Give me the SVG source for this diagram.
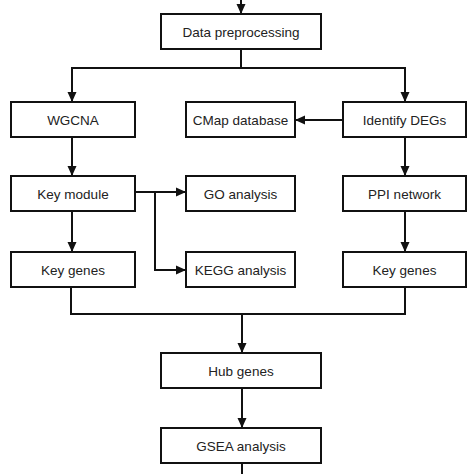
<svg xmlns="http://www.w3.org/2000/svg" width="474" height="474" viewBox="0 0 474 474">
<style>
.box{fill:#fff;stroke:#111;stroke-width:2}
.t{font-family:"Liberation Sans",Arial,sans-serif;font-size:13.5px;fill:#222;text-anchor:middle;dominant-baseline:central}
.c{fill:none;stroke:#111;stroke-width:2}
</style>
<defs>
<marker id="ah" markerWidth="10" markerHeight="10" refX="9" refY="5" orient="auto" markerUnits="userSpaceOnUse">
<path d="M0,0.5 L10,5 L0,9.5 Z" fill="#111"/>
</marker>
</defs>
<rect width="474" height="474" fill="#fff"/>
<g id="connectors">
<path class="c" d="M241,0 V13" marker-end="url(#ah)"/>
<path class="c" d="M241,49 V68 H72 V101" marker-end="url(#ah)"/>
<path class="c" d="M241,68 H405 V101" marker-end="url(#ah)"/>
<path class="c" d="M343,120 H296" marker-end="url(#ah)"/>
<path class="c" d="M72,137 V175" marker-end="url(#ah)"/>
<path class="c" d="M405,137 V175" marker-end="url(#ah)"/>
<path class="c" d="M135,192 H185" marker-end="url(#ah)"/>
<path class="c" d="M155,192 V270 H185" marker-end="url(#ah)"/>
<path class="c" d="M72,211 V251" marker-end="url(#ah)"/>
<path class="c" d="M405,211 V251" marker-end="url(#ah)"/>
<path class="c" d="M71,287 V314 H405 V287"/>
<path class="c" d="M242,314 V352" marker-end="url(#ah)"/>
<path class="c" d="M242,388 V427" marker-end="url(#ah)"/>
<path class="c" d="M242,463 V474"/>
</g>
<g id="n-data"><rect class="box" x="161" y="14" width="160" height="35"/><text class="t" x="241" y="32">Data preprocessing</text></g>
<g id="n-wgcna"><rect class="box" x="11" y="102" width="124" height="35"/><text class="t" x="73" y="120">WGCNA</text></g>
<g id="n-cmap"><rect class="box" x="186" y="102" width="109" height="35"/><text class="t" x="240.5" y="120">CMap database</text></g>
<g id="n-degs"><rect class="box" x="343" y="102" width="123" height="35"/><text class="t" x="404.5" y="120">Identify DEGs</text></g>
<g id="n-keymodule"><rect class="box" x="11" y="176" width="124" height="35"/><text class="t" x="73" y="194">Key module</text></g>
<g id="n-go"><rect class="box" x="186" y="176" width="109" height="35"/><text class="t" x="240.5" y="194">GO analysis</text></g>
<g id="n-ppi"><rect class="box" x="343" y="176" width="123" height="35"/><text class="t" x="404.5" y="194">PPI network</text></g>
<g id="n-keygenes1"><rect class="box" x="11" y="252" width="124" height="35"/><text class="t" x="73" y="270">Key genes</text></g>
<g id="n-kegg"><rect class="box" x="186" y="252" width="109" height="35"/><text class="t" x="240.5" y="270">KEGG analysis</text></g>
<g id="n-keygenes2"><rect class="box" x="343" y="252" width="123" height="35"/><text class="t" x="404.5" y="270">Key genes</text></g>
<g id="n-hub"><rect class="box" x="161" y="353" width="160" height="35"/><text class="t" x="241" y="371">Hub genes</text></g>
<g id="n-gsea"><rect class="box" x="161" y="428" width="160" height="35"/><text class="t" x="241" y="446">GSEA analysis</text></g>
</svg>
